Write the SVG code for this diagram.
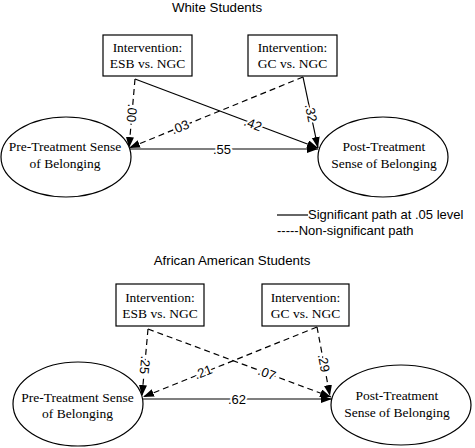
<svg xmlns="http://www.w3.org/2000/svg" width="475" height="448" viewBox="0 0 475 448">
<style>
.title{font-family:"Liberation Sans",Arial,sans-serif;font-size:13.3px;fill:#000;text-anchor:middle}
.legend{font-family:"Liberation Sans",Arial,sans-serif;font-size:13px;fill:#000}
.box{fill:#fff;stroke:#000;stroke-width:1.2}
.ell{fill:#fff;stroke:#000;stroke-width:1.2}
.nt{font-family:"Liberation Serif","Times New Roman",serif;font-size:13.5px;fill:#000;text-anchor:middle}
.sig{fill:none;stroke:#000;stroke-width:1.2;marker-end:url(#ah)}
.ns{fill:none;stroke:#000;stroke-width:1.2;stroke-dasharray:6 4;marker-end:url(#ah)}
.lbl{font-family:"Liberation Sans",Arial,sans-serif;font-size:13px;fill:#000;text-anchor:middle;stroke:#fff;stroke-width:4;paint-order:stroke;stroke-linejoin:round}
</style>
<defs>
<marker id="ah" markerUnits="userSpaceOnUse" markerWidth="12" markerHeight="9" refX="11" refY="4" orient="auto">
<path d="M0,0 L11,4 L0,8 z" fill="#000"/>
</marker>
</defs>
<rect width="475" height="448" fill="#fff"/>

<text class="title" x="217" y="12">White Students</text>
<text class="title" x="232" y="265">African American Students</text>

<g id="legend">
<line x1="277" y1="215" x2="308" y2="215" stroke="#000" stroke-width="1.2"/>
<text class="legend" x="308" y="219">Significant path at .05 level</text>
<text class="legend" x="277" y="235">-----Non-significant path</text>
</g>

<g id="connectors">
<!-- top -->
<line class="ns" x1="135" y1="79" x2="129" y2="148"/>
<line class="sig" x1="135" y1="79" x2="318" y2="148"/>
<line class="ns" x1="303" y1="77" x2="129" y2="148"/>
<line class="sig" x1="303" y1="77" x2="318" y2="148"/>
<line class="sig" x1="130" y1="149" x2="318" y2="149"/>
<!-- bottom -->
<line class="ns" x1="148" y1="329" x2="142" y2="396"/>
<line class="ns" x1="148" y1="329" x2="331" y2="397"/>
<line class="ns" x1="317" y1="327" x2="143" y2="397"/>
<line class="ns" x1="317" y1="327" x2="330" y2="396"/>
<line class="sig" x1="143" y1="399" x2="332" y2="399"/>
</g>

<g id="labels">
<text class="lbl" transform="translate(132,113) rotate(95)" dy="0.35em">.00</text>
<text class="lbl" transform="translate(180,127) rotate(-22)" dy="0.35em">.03</text>
<text class="lbl" transform="translate(253,124) rotate(20.7)" dy="0.35em">.42</text>
<text class="lbl" transform="translate(311,113) rotate(78)" dy="0.35em">.32</text>
<text class="lbl" x="222" y="149" dy="0.35em">.55</text>
<text class="lbl" transform="translate(145,365) rotate(95)" dy="0.35em">.25</text>
<text class="lbl" transform="translate(203,372) rotate(-22)" dy="0.35em">.21</text>
<text class="lbl" transform="translate(267,373) rotate(20.4)" dy="0.35em">.07</text>
<text class="lbl" transform="translate(324,363) rotate(79)" dy="0.35em">.29</text>
<text class="lbl" x="237" y="399" dy="0.35em">.62</text>
</g>

<g id="w-esb">
<rect class="box" x="103" y="35" width="89" height="41"/>
<text class="nt" x="147.5" y="52">Intervention:</text>
<text class="nt" x="147.5" y="68">ESB vs. NGC</text>
</g>
<g id="w-gc">
<rect class="box" x="248" y="35" width="89" height="41"/>
<text class="nt" x="292.5" y="52">Intervention:</text>
<text class="nt" x="292.5" y="68">GC vs. NGC</text>
</g>
<g id="w-pre">
<ellipse class="ell" cx="66" cy="157" rx="65" ry="40"/>
<text class="nt" x="65" y="151">Pre-Treatment Sense</text>
<text class="nt" x="65" y="168">of Belonging</text>
</g>
<g id="w-post">
<ellipse class="ell" cx="383" cy="157" rx="65" ry="40"/>
<text class="nt" x="384" y="151">Post-Treatment</text>
<text class="nt" x="384" y="168">Sense of Belonging</text>
</g>

<g id="a-esb">
<rect class="box" x="116" y="284" width="88" height="42"/>
<text class="nt" x="160" y="302">Intervention:</text>
<text class="nt" x="160" y="318">ESB vs. NGC</text>
</g>
<g id="a-gc">
<rect class="box" x="262" y="284" width="87" height="42"/>
<text class="nt" x="305.5" y="302">Intervention:</text>
<text class="nt" x="305.5" y="318">GC vs. NGC</text>
</g>
<g id="a-pre">
<ellipse class="ell" cx="78" cy="404" rx="65" ry="42"/>
<text class="nt" x="77.5" y="402">Pre-Treatment Sense</text>
<text class="nt" x="77.5" y="418">of Belonging</text>
</g>
<g id="a-post">
<ellipse class="ell" cx="401" cy="405" rx="70" ry="40"/>
<text class="nt" x="397" y="400">Post-Treatment</text>
<text class="nt" x="397" y="417">Sense of Belonging</text>
</g>
</svg>
